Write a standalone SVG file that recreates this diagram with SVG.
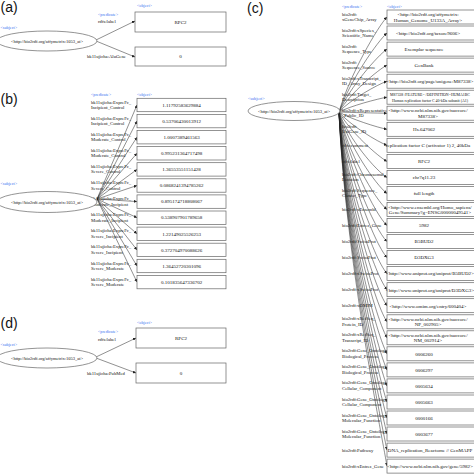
<svg xmlns="http://www.w3.org/2000/svg" width="474" height="474" viewBox="0 0 474 474">
<style>
text{font-family:"Liberation Serif","Times New Roman",serif;fill:#111}
.pl{font-family:"Liberation Sans",Arial,sans-serif;font-size:14px;fill:#111}
.bl{font-size:4.2px;fill:#3a6ef0}
.pr{font-size:4.7px}
.bx{font-size:5px;text-anchor:middle}
.sm{font-size:3.9px}
.el{font-size:4.5px;text-anchor:middle}
rect,ellipse{fill:#fff;stroke:#666;stroke-width:0.7}
.e{fill:none;stroke:#222;stroke-width:0.5;marker-end:url(#ah)}
</style>
<defs>
<marker id="ah" viewBox="0 0 10 10" refX="10" refY="5" markerWidth="3.2" markerHeight="3.2" markerUnits="userSpaceOnUse" orient="auto"><path d="M0,0L10,5L0,10z" fill="#222"/></marker>
</defs>
<rect x="0" y="0" width="474" height="474" style="fill:#fff;stroke:none"/>

<!-- panel labels -->
<text class="pl" x="0.5" y="12">(a)</text>
<text class="pl" x="0.5" y="104">(b)</text>
<text class="pl" x="0.5" y="328">(d)</text>
<text class="pl" x="247" y="13">(c)</text>

<!-- ===== Panel a ===== -->
<g id="a-labels">
<text class="bl" x="0.5" y="28.5">&lt;subject&gt;</text>
<text class="bl" x="98" y="16">&lt;predicate&gt;</text>
<text class="bl" x="137" y="7">&lt;object&gt;</text>
<text class="pr" x="98" y="23">rdfs:label</text>
<text class="pr" x="87" y="58">bk11ujicha:AluGene</text>
</g>
<g id="a-edges">
<path class="e" d="M96 40L135 21"/>
<path class="e" d="M96 41L135 57"/>
</g>
<g id="a-subject"><ellipse cx="47" cy="41" rx="50" ry="10"/><text class="el" x="47" y="42.5">&lt;http://bio2rdf.org/affymetrix:1053_at&gt;</text></g>
<g id="a-obj1"><rect x="135" y="12" width="91" height="20"/><text class="bx" x="180.5" y="23.5">RPC2</text></g>
<g id="a-obj2"><rect x="135" y="47" width="91" height="19"/><text class="bx" x="180.5" y="58">0</text></g>

<!-- ===== Panel b ===== -->
<g id="b-labels">
<text class="bl" x="0.5" y="184.5">&lt;subject&gt;</text>
<text class="bl" x="91" y="95.5">&lt;predicate&gt;</text>
<text class="bl" x="137" y="95.5">&lt;object&gt;</text>
<text class="pr" x="91" y="103.5">bk11ujicha:ExpreFc_</text><text class="pr" x="91" y="109">Incipient_Control</text>
<text class="pr" x="91" y="119.6">bk11ujicha:ExpreFc_</text><text class="pr" x="91" y="125.1">Incipient_Control</text>
<text class="pr" x="91" y="135.7">bk11ujicha:ExpreFc_</text><text class="pr" x="91" y="141.2">Moderate_Control</text>
<text class="pr" x="91" y="151.8">bk11ujicha:ExpreFc_</text><text class="pr" x="91" y="157.3">Moderate_Control</text>
<text class="pr" x="91" y="167.9">bk11ujicha:ExpreFc_</text><text class="pr" x="91" y="173.4">Severe_Control</text>
<text class="pr" x="91" y="184">bk11ujicha:ExpreFc_</text><text class="pr" x="91" y="189.5">Severe_Control</text>
<text class="pr" x="91" y="200.1">bk11ujicha:ExpreFc_</text><text class="pr" x="91" y="205.6">Moderate_Incipient</text>
<text class="pr" x="91" y="216.2">bk11ujicha:ExpreFc_</text><text class="pr" x="91" y="221.7">Moderate_Incipient</text>
<text class="pr" x="91" y="232.3">bk11ujicha:ExpreFc_</text><text class="pr" x="91" y="237.8">Severe_Incipient</text>
<text class="pr" x="91" y="248.4">bk11ujicha:ExpreFc_</text><text class="pr" x="91" y="253.9">Severe_Incipient</text>
<text class="pr" x="91" y="264.5">bk11ujicha:ExpreFc_</text><text class="pr" x="91" y="270">Severe_Moderate</text>
<text class="pr" x="91" y="280.6">bk11ujicha:ExpreFc_</text><text class="pr" x="91" y="286.1">Severe_Moderate</text>
</g>
<g id="b-edges">
<path class="e" d="M97 199L137 105"/>
<path class="e" d="M97 199L137 121.1"/>
<path class="e" d="M97 199L137 137.2"/>
<path class="e" d="M97 199L137 153.3"/>
<path class="e" d="M97 199L137 169.4"/>
<path class="e" d="M97 199L137 185.5"/>
<path class="e" d="M97 199L137 201.6"/>
<path class="e" d="M97 199L137 217.7"/>
<path class="e" d="M97 199L137 233.8"/>
<path class="e" d="M97 199L137 249.9"/>
<path class="e" d="M97 199L137 266"/>
<path class="e" d="M97 199L137 282.1"/>
</g>
<g id="b-subject"><ellipse cx="47" cy="202" rx="50" ry="10.5"/><text class="el" x="47" y="204">&lt;http://bio2rdf.org/affymetrix:1053_at&gt;</text></g>
<g id="b-obj1"><rect x="137" y="98.3" width="89" height="13.4"/><text class="bx" x="181.5" y="106.7">1.11792583629884</text></g>
<g id="b-obj2"><rect x="137" y="114.4" width="89" height="13.4"/><text class="bx" x="181.5" y="122.8">0.53706430013912</text></g>
<g id="b-obj3"><rect x="137" y="130.5" width="89" height="13.4"/><text class="bx" x="181.5" y="138.9">1.0007389461563</text></g>
<g id="b-obj4"><rect x="137" y="146.6" width="89" height="13.4"/><text class="bx" x="181.5" y="155">0.995231364717498</text></g>
<g id="b-obj5"><rect x="137" y="162.7" width="89" height="13.4"/><text class="bx" x="181.5" y="171.1">1.36553551151428</text></g>
<g id="b-obj6"><rect x="137" y="178.8" width="89" height="13.4"/><text class="bx" x="181.5" y="187.2">0.0868241394785262</text></g>
<g id="b-obj7"><rect x="137" y="194.9" width="89" height="13.4"/><text class="bx" x="181.5" y="203.3">0.895174718808067</text></g>
<g id="b-obj8"><rect x="137" y="211" width="89" height="13.4"/><text class="bx" x="181.5" y="219.4">0.538907901789658</text></g>
<g id="b-obj9"><rect x="137" y="227.1" width="89" height="13.4"/><text class="bx" x="181.5" y="235.5">1.22149025526253</text></g>
<g id="b-obj10"><rect x="137" y="243.2" width="89" height="13.4"/><text class="bx" x="181.5" y="251.6">0.372704970088626</text></g>
<g id="b-obj11"><rect x="137" y="259.3" width="89" height="13.4"/><text class="bx" x="181.5" y="267.7">1.36452720301096</text></g>
<g id="b-obj12"><rect x="137" y="275.4" width="89" height="13.4"/><text class="bx" x="181.5" y="283.8">0.101835647336702</text></g>

<!-- ===== Panel d ===== -->
<g id="d-labels">
<text class="bl" x="0.5" y="345.5">&lt;subject&gt;</text>
<text class="bl" x="98" y="333">&lt;predicate&gt;</text>
<text class="bl" x="137" y="324">&lt;object&gt;</text>
<text class="pr" x="98" y="340.5">rdfs:label</text>
<text class="pr" x="87" y="374.5">bk11ujicha:PubMed</text>
</g>
<g id="d-edges">
<path class="e" d="M96 357L136 338"/>
<path class="e" d="M96 358L136 373"/>
</g>
<g id="d-subject"><ellipse cx="47" cy="358" rx="50" ry="10"/><text class="el" x="47" y="359.5">&lt;http://bio2rdf.org/affymetrix:1053_at&gt;</text></g>
<g id="d-obj1"><rect x="136" y="328" width="90" height="20"/><text class="bx" x="181" y="339.5">RPC2</text></g>
<g id="d-obj2"><rect x="136" y="363" width="90" height="20"/><text class="bx" x="181" y="374.5">0</text></g>

<!-- ===== Panel c ===== -->
<g id="c-labels">
<text class="bl" x="248" y="99.5">&lt;subject&gt;</text>
<text class="bl" x="342" y="7.5">&lt;predicate&gt;</text>
<text class="bl" x="387" y="7.5">&lt;object&gt;</text>
<text class="pr" x="342" y="15.5">bio2rdf:</text><text class="pr" x="342" y="21">xGeneChip_Array</text>
<text class="pr" x="342" y="31.5">bio2rdf:xSpecies_</text><text class="pr" x="342" y="37">Scientific_Name</text>
<text class="pr" x="342" y="47.6">bio2rdf:</text><text class="pr" x="342" y="53.1">Sequence_Type</text>
<text class="pr" x="342" y="63.6">bio2rdf:</text><text class="pr" x="342" y="69.1">Sequence_Source</text>
<text class="pr" x="342" y="79.7">bio2rdf:xTranscript_</text><text class="pr" x="342" y="85.2">ID_Array_Design</text>
<text class="pr" x="342" y="95.7">bio2rdf:Target_</text><text class="pr" x="342" y="101.2">Description</text>
<text class="pr" x="342" y="111.7">bio2rdf:xRepresentative</text><text class="pr" x="342" y="117.2">_Public_ID</text>
<text class="pr" x="342" y="127.8">bio2rdf:</text><text class="pr" x="342" y="133.3">UniGene_ID</text>
<text class="pr" x="342" y="146.8">rdfs:comment</text>
<text class="pr" x="342" y="162.9">rdfs:label</text>
<text class="pr" x="342" y="175.9">bio2rdf:Chromosomal_</text><text class="pr" x="342" y="181.4">Location</text>
<text class="pr" x="342" y="191.9">bio2rdf:Sequence_</text><text class="pr" x="342" y="197.4">Cluster_Type</text>
<text class="pr" x="342" y="211">bio2rdf:xEnsembl</text>
<text class="pr" x="342" y="227">bio2rdf:Entrez_Gene</text>
<text class="pr" x="342" y="243.1">bio2rdf:SwissProt</text>
<text class="pr" x="342" y="259.1">bio2rdf:SwissProt</text>
<text class="pr" x="342" y="275.1">bio2rdf:xSwissProt</text>
<text class="pr" x="342" y="291.2">bio2rdf:xSwissProt</text>
<text class="pr" x="342" y="307.2">bio2rdf:xOMIM</text>
<text class="pr" x="342" y="320.3">bio2rdf:xRefSeq_</text><text class="pr" x="342" y="325.8">Protein_ID</text>
<text class="pr" x="342" y="336.3">bio2rdf:xRefSeq_</text><text class="pr" x="342" y="341.8">Transcript_ID</text>
<text class="pr" x="342" y="352.3">bio2rdf:Gene_Ontology_</text><text class="pr" x="342" y="357.8">Biological_Process</text>
<text class="pr" x="342" y="368.4">bio2rdf:Gene_Ontology_</text><text class="pr" x="342" y="373.9">Biological_Process</text>
<text class="pr" x="342" y="384.4">bio2rdf:Gene_Ontology_</text><text class="pr" x="342" y="389.9">Cellular_Component</text>
<text class="pr" x="342" y="400.5">bio2rdf:Gene_Ontology_</text><text class="pr" x="342" y="406">Cellular_Component</text>
<text class="pr" x="342" y="416.5">bio2rdf:Gene_Ontology_</text><text class="pr" x="342" y="422">Molecular_Function</text>
<text class="pr" x="342" y="432.5">bio2rdf:Gene_Ontology_</text><text class="pr" x="342" y="438">Molecular_Function</text>
<text class="pr" x="342" y="451.6">bio2rdf:Pathway</text>
<text class="pr" x="342" y="467.6">bio2rdf:xEntrez_Gene</text>
</g>
<g id="c-edges">
<path class="e" d="M339 112C350 74 378 26.5 387 17"/>
<path class="e" d="M339 112C350 80.4 378 40.9 387 33"/>
<path class="e" d="M339 112C350 86.8 378 55.4 387 49.1"/>
<path class="e" d="M339 112C350 93.2 378 69.8 387 65.1"/>
<path class="e" d="M339 112C350 99.7 378 84.3 387 81.2"/>
<path class="e" d="M339 112C350 106.1 378 98.7 387 97.2"/>
<path class="e" d="M339 112C350 112.5 378 113.1 387 113.2"/>
<path class="e" d="M339 112C350 118.9 378 127.6 387 129.3"/>
<path class="e" d="M339 112C350 125.3 378 142 387 145.3"/>
<path class="e" d="M339 112C350 131.8 378 156.5 387 161.4"/>
<path class="e" d="M339 112C348 138.2 376 170.9 387 177.4"/>
<path class="e" d="M339 112C348 144.6 376 185.3 387 193.4"/>
<path class="e" d="M339 112C347 151 375 199.8 387 209.5"/>
<path class="e" d="M339 112C347 157.4 375 214.2 387 225.5"/>
<path class="e" d="M339 112C346 163.8 374 228.6 387 241.6"/>
<path class="e" d="M339 112C346 170.2 374 243.1 387 257.6"/>
<path class="e" d="M339 112C345 176.6 373 257.5 387 273.6"/>
<path class="e" d="M339 112C345 183.1 373 271.9 387 289.7"/>
<path class="e" d="M339 112C345 189.5 373 286.4 387 305.7"/>
<path class="e" d="M339 112C345 195.9 373 300.8 387 321.8"/>
<path class="e" d="M339 112C345 202.3 374 315.2 387 337.8"/>
<path class="e" d="M339 112C345 208.7 374 329.6 387 353.8"/>
<path class="e" d="M339 112C345 215.1 375 344.1 387 369.9"/>
<path class="e" d="M339 112C345 221.6 376 358.5 387 385.9"/>
<path class="e" d="M339 112C345 228 377 373 387 402"/>
<path class="e" d="M339 112C345 234.4 378 387.4 387 418"/>
<path class="e" d="M339 112C345 240.8 379 401.8 387 434"/>
<path class="e" d="M339 112C345 247.2 380 416.3 387 450.1"/>
<path class="e" d="M339 112C345 253.6 381 430.7 387 466.1"/>
</g>
<g id="c-subject"><ellipse cx="294" cy="111" rx="46" ry="9.5"/><text class="el" x="294" y="112.5">&lt;http://bio2rdf.org/affymetrix:1053_at&gt;</text></g>
<g id="c-obj1"><rect x="387" y="10" width="90" height="14"/><text class="bx" x="428" y="16">&lt;http://bio2rdf.org/affymetrix:</text><text class="bx" x="428" y="21.5">Human_Genome_U133A_Array&gt;</text></g>
<g id="c-obj2"><rect x="387" y="26" width="90" height="14"/><text class="bx" x="428" y="34.8">&lt;http://bio2rdf.org/taxon:9606&gt;</text></g>
<g id="c-obj3"><rect x="387" y="42.1" width="90" height="14"/><text class="bx" x="424" y="50.9">Exemplar sequence</text></g>
<g id="c-obj4"><rect x="387" y="58.1" width="90" height="14"/><text class="bx" x="424" y="66.9">GenBank</text></g>
<g id="c-obj5"><rect x="387" y="74.2" width="90" height="14"/><text class="bx" x="430" y="83">&lt;http://bio2rdf.org/page/unigene:M87338&gt;</text></g>
<g id="c-obj6"><rect x="387" y="90.2" width="90" height="14"/><text class="bx sm" x="430" y="96.2">M87338 /FEATURE= /DEFINITION=HUMA1BC</text><text class="bx sm" x="430" y="101.7">Human replication factor C 40-kDa subunit (A1)</text></g>
<g id="c-obj7"><rect x="387" y="106.2" width="90" height="14"/><text class="bx" x="428" y="112.2">&lt;http://www.ncbi.nlm.nih.gov/nuccore/</text><text class="bx" x="428" y="117.7">M87338&gt;</text></g>
<g id="c-obj8"><rect x="387" y="122.3" width="90" height="14"/><text class="bx" x="424" y="131.1">Hs.647062</text></g>
<g id="c-obj9"><rect x="387" y="138.3" width="90" height="14"/><text class="bx" x="428" y="147.1">replication factor C (activator 1) 2, 40kDa</text></g>
<g id="c-obj10"><rect x="387" y="154.4" width="90" height="14"/><text class="bx" x="424" y="163.2">RFC2</text></g>
<g id="c-obj11"><rect x="387" y="170.4" width="90" height="14"/><text class="bx" x="424" y="179.2">chr7q11.23</text></g>
<g id="c-obj12"><rect x="387" y="186.4" width="90" height="14"/><text class="bx" x="424" y="195.2">full length</text></g>
<g id="c-obj13"><rect x="387" y="202.5" width="90" height="14"/><text class="bx" x="430" y="208.5">&lt;http://www.ensembl.org/Homo_sapiens/</text><text class="bx" x="430" y="214">Gene/Summary?g=ENSG00000049541&gt;</text></g>
<g id="c-obj14"><rect x="387" y="218.5" width="90" height="14"/><text class="bx" x="424" y="227.3">5982</text></g>
<g id="c-obj15"><rect x="387" y="234.6" width="90" height="14"/><text class="bx" x="424" y="243.4">B5BUD2</text></g>
<g id="c-obj16"><rect x="387" y="250.6" width="90" height="14"/><text class="bx" x="424" y="259.4">D3DXG3</text></g>
<g id="c-obj17"><rect x="387" y="266.6" width="90" height="14"/><text class="bx" x="430" y="275.4">&lt;http://www.uniprot.org/uniprot/B5BUD2&gt;</text></g>
<g id="c-obj18"><rect x="387" y="282.7" width="90" height="14"/><text class="bx" x="430" y="291.5">&lt;http://www.uniprot.org/uniprot/D3DXG3&gt;</text></g>
<g id="c-obj19"><rect x="387" y="298.7" width="90" height="14"/><text class="bx" x="428" y="307.5">&lt;http://www.omim.org/entry/600404&gt;</text></g>
<g id="c-obj20"><rect x="387" y="314.8" width="90" height="14"/><text class="bx" x="428" y="320.8">&lt;http://www.ncbi.nlm.nih.gov/nuccore/</text><text class="bx" x="428" y="326.3">NP_002905&gt;</text></g>
<g id="c-obj21"><rect x="387" y="330.8" width="90" height="14"/><text class="bx" x="428" y="336.8">&lt;http://www.ncbi.nlm.nih.gov/nuccore/</text><text class="bx" x="428" y="342.3">NM_002914&gt;</text></g>
<g id="c-obj22"><rect x="387" y="346.8" width="90" height="14"/><text class="bx" x="424" y="355.6">0006260</text></g>
<g id="c-obj23"><rect x="387" y="362.9" width="90" height="14"/><text class="bx" x="424" y="371.7">0006297</text></g>
<g id="c-obj24"><rect x="387" y="378.9" width="90" height="14"/><text class="bx" x="424" y="387.7">0005634</text></g>
<g id="c-obj25"><rect x="387" y="395" width="90" height="14"/><text class="bx" x="424" y="403.8">0005663</text></g>
<g id="c-obj26"><rect x="387" y="411" width="90" height="14"/><text class="bx" x="424" y="419.8">0000166</text></g>
<g id="c-obj27"><rect x="387" y="427" width="90" height="14"/><text class="bx" x="424" y="435.8">0003677</text></g>
<g id="c-obj28"><rect x="387" y="443.1" width="90" height="14"/><text class="bx" x="430" y="451.9">DNA_replication_Reactome // GenMAPP</text></g>
<g id="c-obj29"><rect x="387" y="459.1" width="90" height="14"/><text class="bx" x="430" y="467.9">&lt;http://www.ncbi.nlm.nih.gov/gene/5982&gt;</text></g>
</svg>
